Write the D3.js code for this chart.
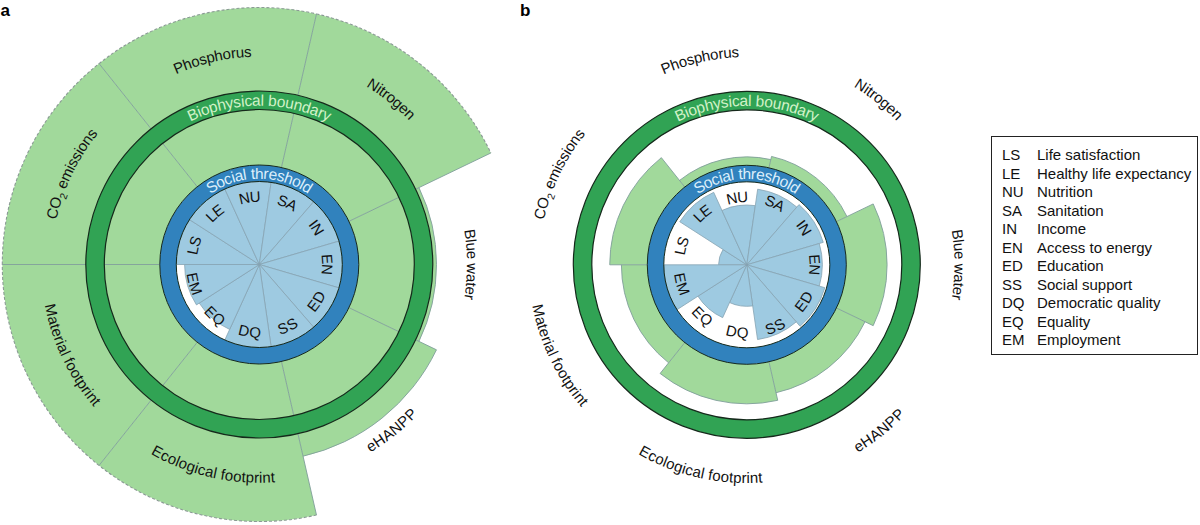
<!DOCTYPE html>
<html>
<head>
<meta charset="utf-8">
<script src="https://cdn.jsdelivr.net/npm/d3@7"></script>
<style>
    body { margin: 0; background: #fff; }
    svg text { font-family: "Liberation Sans", Arial, Helvetica, sans-serif; }
</style>
</head>
<body>
<div id="chart"></div>
<script>
// biophysical indicators, clockwise from the 9 o'clock position
const ecoLabels = ['CO2 emissions', 'Phosphorus', 'Nitrogen', 'Blue water', 'eHANPP', 'Ecological footprint', 'Material footprint'];
// value relative to the boundary (1 = on the boundary); values past the axis end are drawn dashed
const ecoValuesA = [2.5, 2.5, 2.5, 1.20, 1.50, 2.5, 2.5];
const ecoValuesB = [0.58, 0.13, 0.18, 0.63, 0.49, 0.61, 0.40];

// social indicators, clockwise from the 9 o'clock position
const socCodes = ['LS', 'LE', 'NU', 'SA', 'IN', 'EN', 'ED', 'SS', 'DQ', 'EQ', 'EM'];
const socNames = ['Life satisfaction', 'Healthy life expectancy', 'Nutrition', 'Sanitation', 'Income',
    'Access to energy', 'Education', 'Social support', 'Democratic quality', 'Equality', 'Employment'];
// value relative to the threshold (1 = threshold reached)
const socValuesA = [1, 1, 1, 1, 1, 1, 1, 1, 1, 0.86, 0.90];
const socValuesB = [0.34, 0.96, 0.72, 0.92, 0.96, 0.91, 0.98, 0.91, 0.50, 0.70, 1];

const width = 1200,
    height = 525;

const colors = {
    eco: '#a1d99b',
    bio: '#31a354',
    soc: '#9ecae1',
    socRing: '#3182bd',
    ecoLine: '#7f9e9a',
    socLine: '#86a3b3',
    cap: '#8a9a94',
    edge: '#15291b'
};

const radii = {
    socIn: 83,
    socOut: 99.5,
    bioIn: 155,
    bioOut: 173.5,
    cap: 257,
    ecoLabel: 213,
    socLabel: 68
};

const socScale = d3.scaleLinear()
    .domain([0, 1])
    .range([0, radii.socIn])
    .clamp(true);

const ecoScale = d3.scaleLinear()
    .domain([0, 1])
    .range([radii.socOut, (radii.bioIn + radii.bioOut) / 2]);

const ecoCap = ecoScale.invert(radii.cap);

const ecoAngle = d3.scaleLinear()
    .domain([0, ecoLabels.length])
    .range([-Math.PI / 2, Math.PI * 1.5]);

const socAngle = d3.scaleLinear()
    .domain([0, socCodes.length])
    .range([-Math.PI / 2, Math.PI * 1.5]);

const svg = d3.select('#chart').append('svg')
    .attr('width', width)
    .attr('height', height);

const arc = d3.arc();

function norm(a) {
    const t = Math.PI * 2;
    return ((a % t) + t) % t;
}

// circular path for text; bottom half runs anticlockwise so the words stay upright
function labelPath(r, mid, span) {
    const m = norm(mid),
        flip = m > Math.PI / 2 + 1e-6 && m < Math.PI * 1.5 - 1e-6,
        c = mid - Math.PI / 2,
        p = d3.path();

    if (flip) {
        p.arc(0, 0, r, c + span, c - span, true);
    } else {
        p.arc(0, 0, r, c - span, c + span, false);
    }
    return p.toString();
}

function arcLine(r, a0, a1) {
    const p = d3.path();
    p.arc(0, 0, r, a0 - Math.PI / 2, a1 - Math.PI / 2, false);
    return p.toString();
}

function curvedText(g, id, r, mid, span, text, size, fill) {
    g.append('path')
        .attr('id', id)
        .attr('d', labelPath(r, mid, span))
        .attr('fill', 'none');

    const t = g.append('text')
        .attr('dy', '0.35em')
        .attr('font-size', size)
        .attr('fill', fill)
        .append('textPath')
        .attr('href', '#' + id)
        .attr('startOffset', '50%')
        .attr('text-anchor', 'middle');

    if (text.indexOf('CO2') === 0) {
        t.append('tspan').text('CO');
        t.append('tspan').attr('font-size', size * 0.68).attr('dy', 4).text('2');
        t.append('tspan').attr('dy', -4).text(text.slice(3));
    } else {
        t.text(text);
    }
}

function drawDoughnut(cx, cy, ecoValues, socValues, id) {
    const g = svg.append('g')
        .attr('transform', 'translate(' + cx + ', ' + cy + ')');

    const ecoN = ecoLabels.length;

    const ecoR = ecoValues.map(v => ecoScale(Math.min(v, ecoCap)));

    // Biophysical wedges

    g.selectAll('.eco')
        .data(ecoValues)
        .enter()
        .append('path')
        .attr('class', 'eco')
        .attr('d', (d, i) => arc({
            innerRadius: radii.socOut,
            outerRadius: ecoR[i],
            startAngle: ecoAngle(i),
            endAngle: ecoAngle(i + 1)
        }))
        .attr('fill', colors.eco);

    // radial edges between wedges
    for (let i = 0; i < ecoN; i++) {
        const a = ecoAngle(i),
            r = Math.max(ecoR[i], ecoR[(i - 1 + ecoN) % ecoN]);

        g.append('line')
            .attr('x1', radii.socOut * Math.sin(a))
            .attr('y1', -radii.socOut * Math.cos(a))
            .attr('x2', r * Math.sin(a))
            .attr('y2', -r * Math.cos(a))
            .attr('stroke', colors.ecoLine)
            .attr('stroke-width', 0.9);
    }

    // outer edges, dashed where the value runs past the axis
    ecoValues.forEach((v, i) => {
        const capped = v > ecoCap;
        g.append('path')
            .attr('d', arcLine(ecoR[i], ecoAngle(i), ecoAngle(i + 1)))
            .attr('fill', 'none')
            .attr('stroke', capped ? colors.cap : colors.ecoLine)
            .attr('stroke-width', capped ? 1.1 : 0.9)
            .attr('stroke-dasharray', capped ? '3,2' : null);
    });

    // Social wedges

    g.selectAll('.soc')
        .data(socValues)
        .enter()
        .append('path')
        .attr('class', 'soc')
        .attr('d', (d, i) => arc({
            innerRadius: 0,
            outerRadius: socScale(d),
            startAngle: socAngle(i),
            endAngle: socAngle(i + 1)
        }))
        .attr('fill', colors.soc)
        .attr('stroke', colors.socLine)
        .attr('stroke-width', 0.8);

    g.append('circle')
        .attr('r', 1.3)
        .attr('fill', colors.socLine);

    // Rings

    g.append('path')
        .attr('d', arc({ innerRadius: radii.socIn, outerRadius: radii.socOut, startAngle: 0, endAngle: Math.PI * 2 }))
        .attr('fill', colors.socRing)
        .attr('stroke', colors.edge)
        .attr('stroke-width', 1);

    g.append('path')
        .attr('d', arc({ innerRadius: radii.bioIn, outerRadius: radii.bioOut, startAngle: 0, endAngle: Math.PI * 2 }))
        .attr('fill', colors.bio)
        .attr('stroke', colors.edge)
        .attr('stroke-width', 1.2);

    curvedText(g, id + '-bio', (radii.bioIn + radii.bioOut) / 2, 0, 1.2, 'Biophysical boundary', 15.5, '#d2f2c8');
    curvedText(g, id + '-soc', (radii.socIn + radii.socOut) / 2, 0, 1.4, 'Social threshold', 15.5, '#dceffb');

    // Labels

    ecoLabels.forEach((name, i) => {
        const mid = (ecoAngle(i) + ecoAngle(i + 1)) / 2;
        curvedText(g, id + '-eco-' + i, radii.ecoLabel, mid, 1.2, name, 15, '#111');
    });

    socCodes.forEach((code, i) => {
        const mid = (socAngle(i) + socAngle(i + 1)) / 2;
        curvedText(g, id + '-socl-' + i, radii.socLabel, mid, 0.6, code, 15, '#111');
    });
}

drawDoughnut(259.3, 264.5, ecoValuesA, socValuesA, 'a');
drawDoughnut(746.8, 264.8, ecoValuesB, socValuesB, 'b');

// panel letters
svg.append('text')
    .attr('x', 0.5)
    .attr('y', 15.5)
    .attr('font-size', 17)
    .attr('font-weight', 'bold')
    .text('a');

svg.append('text')
    .attr('x', 520)
    .attr('y', 15.5)
    .attr('font-size', 17)
    .attr('font-weight', 'bold')
    .text('b');

// Legend

const legend = svg.append('g');

legend.append('rect')
    .attr('x', 991.5)
    .attr('y', 136.5)
    .attr('width', 206)
    .attr('height', 218)
    .attr('fill', 'none')
    .attr('stroke', '#222')
    .attr('stroke-width', 1);

const rowY = d3.scaleLinear()
    .domain([0, socCodes.length - 1])
    .range([155, 340]);

socCodes.forEach((code, i) => {
    legend.append('text')
        .attr('x', 1002)
        .attr('y', rowY(i))
        .attr('dy', '0.35em')
        .attr('font-size', 15)
        .attr('fill', '#111')
        .text(code);

    legend.append('text')
        .attr('x', 1037)
        .attr('y', rowY(i))
        .attr('dy', '0.35em')
        .attr('font-size', 15)
        .attr('fill', '#111')
        .text(socNames[i]);
});
</script>
</body>
</html>
